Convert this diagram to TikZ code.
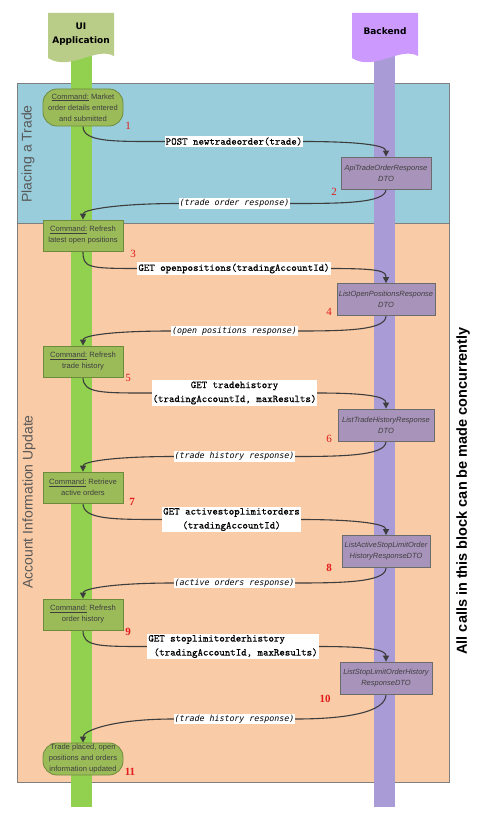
\documentclass[tikz,border=0pt]{standalone}
\usepackage{fontspec}
\setmainfont{Liberation Sans}
\newfontfamily\hdrfont{DejaVu Sans}
\newfontfamily\respfont{DejaVu Sans Mono}
\newfontfamily\numfont{Liberation Serif}
\newfontfamily\reqfont[FakeBold=0.5]{Latin Modern Mono}
\usetikzlibrary{arrows.meta}
\pgfdeclarelayer{bg}
\pgfdeclarelayer{lanes}
\pgfdeclarelayer{conn}
\pgfsetlayers{bg,lanes,conn,main}
\definecolor{uihdr}{HTML}{B9CC88}
\definecolor{uiline}{HTML}{92D050}
\definecolor{behdr}{HTML}{CC99FF}
\definecolor{beline}{HTML}{A99BD5}
\definecolor{tradebg}{HTML}{99CDDB}
\definecolor{acctbg}{HTML}{F9CBA6}
\definecolor{boxborder}{HTML}{7F7F7F}
\definecolor{cmdfill}{HTML}{9BBB59}
\definecolor{cmddraw}{HTML}{6E8B3D}
\definecolor{dtofill}{HTML}{A893BA}
\definecolor{dtodraw}{HTML}{6B6B6B}
\definecolor{txtgray}{HTML}{3F3F3F}
\definecolor{sectxt}{HTML}{595959}
\definecolor{arrowcol}{HTML}{3D3D3D}
\definecolor{numred}{HTML}{E31B1B}
\tikzset{
  cmd/.style={rectangle, draw=cmddraw, fill=cmdfill, line width=0.8pt,
    minimum width=80pt, minimum height=31pt, inner sep=0pt, align=center,
    text=txtgray, font=\fontsize{7.6}{11}\selectfont},
  cmdround/.style={cmd, rounded corners=14pt},
  dto/.style={rectangle, draw=dtodraw, fill=dtofill, line width=0.8pt,
    minimum height=32pt, inner sep=0pt, align=center, text=txtgray,
    font=\fontsize{7.5}{11}\selectfont\itshape},
  req/.style={fill=white, inner xsep=1pt, inner ysep=1.5pt, align=center,
    font=\reqfont\fontsize{10.4}{14}\selectfont},
  resp/.style={fill=white, inner xsep=1pt, inner ysep=1.2pt,
    font=\respfont\itshape\fontsize{8.3}{10}\selectfont},
  num/.style={text=numred, inner sep=0pt, font=\numfont\fontsize{11}{12}\selectfont},
  numb/.style={num, font=\numfont\bfseries\fontsize{11}{12}\selectfont},
  arr/.style={draw=arrowcol, line width=1.1pt, -{Triangle[length=6pt,width=6pt]}},
  seclab/.style={rotate=90, text=sectxt, font=\fontsize{14}{16}\selectfont},
  hdrtxt/.style={align=center, font=\hdrfont\bfseries\fontsize{9}{14}\selectfont}
}
\begin{document}
\begin{tikzpicture}[x=1pt,y=-1pt]
\useasboundingbox (0,0) rectangle (482,821);
% section boxes
\begin{pgfonlayer}{bg}
\filldraw[fill=tradebg, draw=boxborder, line width=0.8pt] (17,83) rectangle (449,223);
\filldraw[fill=acctbg, draw=boxborder, line width=0.8pt] (17,223) rectangle (449,782);
\end{pgfonlayer}
% lifelines
\begin{pgfonlayer}{lanes}
\fill[uiline] (71,50) rectangle (92,807);
\fill[beline] (374,50) rectangle (395,807);
\end{pgfonlayer}
% headers
\fill[uihdr] (48,13) -- (114,13) -- (114,56) .. controls (96,46) and (70,72) .. (48,58) -- cycle;
\fill[behdr] (352,13) -- (418,13) -- (418,56) .. controls (400,46) and (374,72) .. (352,58) -- cycle;
\node[hdrtxt] (uihead) at (81,34) {UI\\Application};
\node[hdrtxt] (behead) at (385,31.5) {Backend};
% section labels
\node[seclab] (secA) at (28,154) {Placing a Trade};
\node[seclab] (secB) at (29,502) {Account Information Update};
\node[rotate=90, font=\bfseries\fontsize{14.5}{16}\selectfont] (conc) at (463,491) {All calls in this block can be made concurrently};
% command nodes
\node[cmdround, minimum height=37pt] (c1) at (83,107.5) {\underline{Command:} Market\\order details entered\\and submitted};
\node[cmd] (c2) at (83,235.5) {\underline{Command:} Refresh\\latest open positions};
\node[cmd] (c3) at (83,361.5) {\underline{Command:} Refresh\\trade history};
\node[cmd] (c4) at (83,487.5) {\underline{Command:} Retrieve\\active orders};
\node[cmd] (c5) at (83,614.5) {\underline{Command:} Refresh\\order history};
\node[cmdround, minimum height=32pt] (c6) at (83,759) {Trade placed, open\\positions and orders\\information updated};
% DTO nodes
\node[dto, minimum width=90pt] (d1) at (386,173) {ApiTradeOrderResponse\\DTO};
\node[dto, minimum width=98pt] (d2) at (386,299.5) {ListOpenPositionsResponse\\DTO};
\node[dto, minimum width=96pt] (d3) at (386,425) {ListTradeHistoryResponse\\DTO};
\node[dto, minimum width=88pt] (d4) at (386,551.5) {ListActiveStopLimitOrder\\HistoryResponseDTO};
\node[dto, minimum width=92pt] (d5) at (386,678) {ListStopLimitOrderHistory\\ResponseDTO};
% request labels
\node[req] (l1) at (234,141.5) {POST newtradeorder(trade)};
\node[req] (l2) at (234,268.5) {GET openpositions(tradingAccountId)};
\node[req] (l3) at (234.5,393) {GET tradehistory\\(tradingAccountId, maxResults)};
\node[req] (l4) at (231.5,519.5) {GET activestoplimitorders\\(tradingAccountId)};
\node[req, align=left] (l5) at (233,646.5) {GET stoplimitorderhistory\\\ (tradingAccountId, maxResults)};
% response labels
\node[resp] (r1) at (234.5,203.5) {(trade order response)};
\node[resp] (r2) at (234.5,331) {(open positions response)};
\node[resp] (r3) at (234.5,456.5) {(trade history response)};
\node[resp] (r4) at (234.5,583) {(active orders response)};
\node[resp] (r5) at (234.5,719) {(trade history response)};
% numbers
\node[num] (n1) at (128,126) {1};
\node[num] (n2) at (334,192) {2};
\node[num] (n3) at (133,254) {3};
\node[num] (n4) at (329,312) {4};
\node[num] (n5) at (128,378) {5};
\node[num] (n6) at (329,439) {6};
\node[numb] (n7) at (132,502) {7};
\node[numb] (n8) at (329,568) {8};
\node[numb] (n9) at (128,632) {9};
\node[numb] (n10) at (325,699) {10};
\node[numb] (n11) at (130,772) {11};
% connectors
\begin{pgfonlayer}{conn}
\draw[arr] (c1.south) .. controls +(0,16) and +(-50,0) .. (l1.west) -- (l1.east) .. controls +(50,0) and +(0,-12) .. (d1.north);
\draw[arr] (d1.south) .. controls +(0,14) and +(50,0) .. (r1.east) -- (r1.west) .. controls +(-60,0) and +(0,-10) .. (c2.north);
\draw[arr] (c2.south) .. controls +(0,16) and +(-50,0) .. (l2.west) -- (l2.east) .. controls +(50,0) and +(0,-12) .. (d2.north);
\draw[arr] (d2.south) .. controls +(0,14) and +(50,0) .. (r2.east) -- (r2.west) .. controls +(-60,0) and +(0,-10) .. (c3.north);
\draw[arr] (c3.south) .. controls +(0,16) and +(-50,0) .. (l3.west) -- (l3.east) .. controls +(50,0) and +(0,-12) .. (d3.north);
\draw[arr] (d3.south) .. controls +(0,14) and +(50,0) .. (r3.east) -- (r3.west) .. controls +(-60,0) and +(0,-10) .. (c4.north);
\draw[arr] (c4.south) .. controls +(0,16) and +(-50,0) .. (l4.west) -- (l4.east) .. controls +(50,0) and +(0,-12) .. (d4.north);
\draw[arr] (d4.south) .. controls +(0,14) and +(50,0) .. (r4.east) -- (r4.west) .. controls +(-60,0) and +(0,-10) .. (c5.north);
\draw[arr] (c5.south) .. controls +(0,16) and +(-50,0) .. (l5.west) -- (l5.east) .. controls +(50,0) and +(0,-12) .. (d5.north);
\draw[arr] (d5.south) .. controls +(0,18) and +(50,0) .. (r5.east) -- (r5.west) .. controls +(-60,0) and +(0,-12) .. (c6.north);
\end{pgfonlayer}
\end{tikzpicture}
\end{document}
